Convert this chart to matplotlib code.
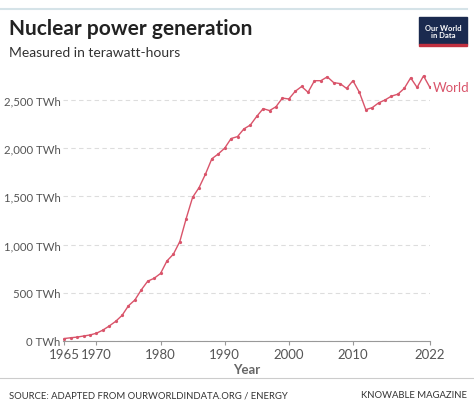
import matplotlib.pyplot as plt
from matplotlib.patches import Rectangle

plt.rcParams["font.family"] = ["Lato", "DejaVu Sans"]

years = list(range(1965, 2023))
twh = [25, 33, 40, 51, 62, 80, 112, 155, 203, 265, 365, 425, 530, 620, 650, 700,
       830, 900, 1030, 1270, 1490, 1590, 1730, 1890, 1940, 2000, 2100, 2120, 2200,
       2240, 2330, 2410, 2390, 2430, 2520, 2510, 2590, 2640, 2580, 2700, 2700, 2740,
       2680, 2670, 2620, 2700, 2580, 2400, 2420, 2470, 2500, 2540, 2560, 2620, 2730,
       2630, 2750, 2630]
yticks = [0, 500, 1000, 1500, 2000, 2500]
xticks = [1965, 1970, 1980, 1990, 2000, 2010, 2022]

red = "#d9546a"
fig = plt.figure(figsize=(4.74, 4.10), dpi=100)
fig.patch.set_facecolor("white")
ax = fig.add_axes([0.133, 0.166, 0.774, 0.67])

ax.plot(years, twh, color=red, lw=1.0, marker="o", ms=1.3)
ax.set_xlim(1964.8, 2022)
ax.set_ylim(0, 2850)
ax.set_yticks(yticks)
ax.set_yticklabels([f"{v:,} TWh" for v in yticks])
ax.set_xticks(xticks)
ax.tick_params(length=0, labelsize=8.2, colors="#555555")
ax.tick_params(axis="x", length=3, color="#999999", labelsize=9.5, pad=2)
ax.tick_params(axis="y", pad=2)
ax.grid(axis="y", color="#dddddd", ls=(0, (4, 3)), lw=0.8)
for s in ["top", "right", "left"]:
    ax.spines[s].set_visible(False)
ax.spines["bottom"].set_color("#999999")
ax.set_xlabel("Year", fontsize=9.5, color="#666666", fontweight="bold", labelpad=2)
ax.text(2022.4, twh[-1], "World", color=red, fontsize=9.5, va="center", clip_on=False)

fig.text(0.02, 0.93, "Nuclear power generation", fontsize=15, fontweight="bold",
         color="#222222", va="center")
fig.text(0.02, 0.87, "Measured in terawatt-hours", fontsize=10, color="#333333", va="center")
fig.add_artist(plt.Line2D([0.0, 0.985], [0.975, 0.975], color="#d5e3e8", lw=1.5))
fig.add_artist(Rectangle((0.885, 0.89), 0.1, 0.065, color="#1a2a4f"))
fig.add_artist(Rectangle((0.885, 0.885), 0.1, 0.006, color="#c0303f"))
fig.text(0.935, 0.922, "Our World\nin Data", color="white", fontsize=5.5, fontweight="bold",
         ha="center", va="center", linespacing=0.95)
fig.add_artist(plt.Line2D([0.0, 1.0], [0.075, 0.075], color="#cccccc", lw=0.8))
fig.text(0.02, 0.035, "SOURCE: ADAPTED FROM OURWORLDINDATA.ORG / ENERGY", fontsize=6.8,
         color="#333333", va="center")
fig.text(0.985, 0.035, "KNOWABLE MAGAZINE", fontsize=6.8, color="#333333",
         va="center", ha="right")
fig.savefig("out.png", dpi=100)
